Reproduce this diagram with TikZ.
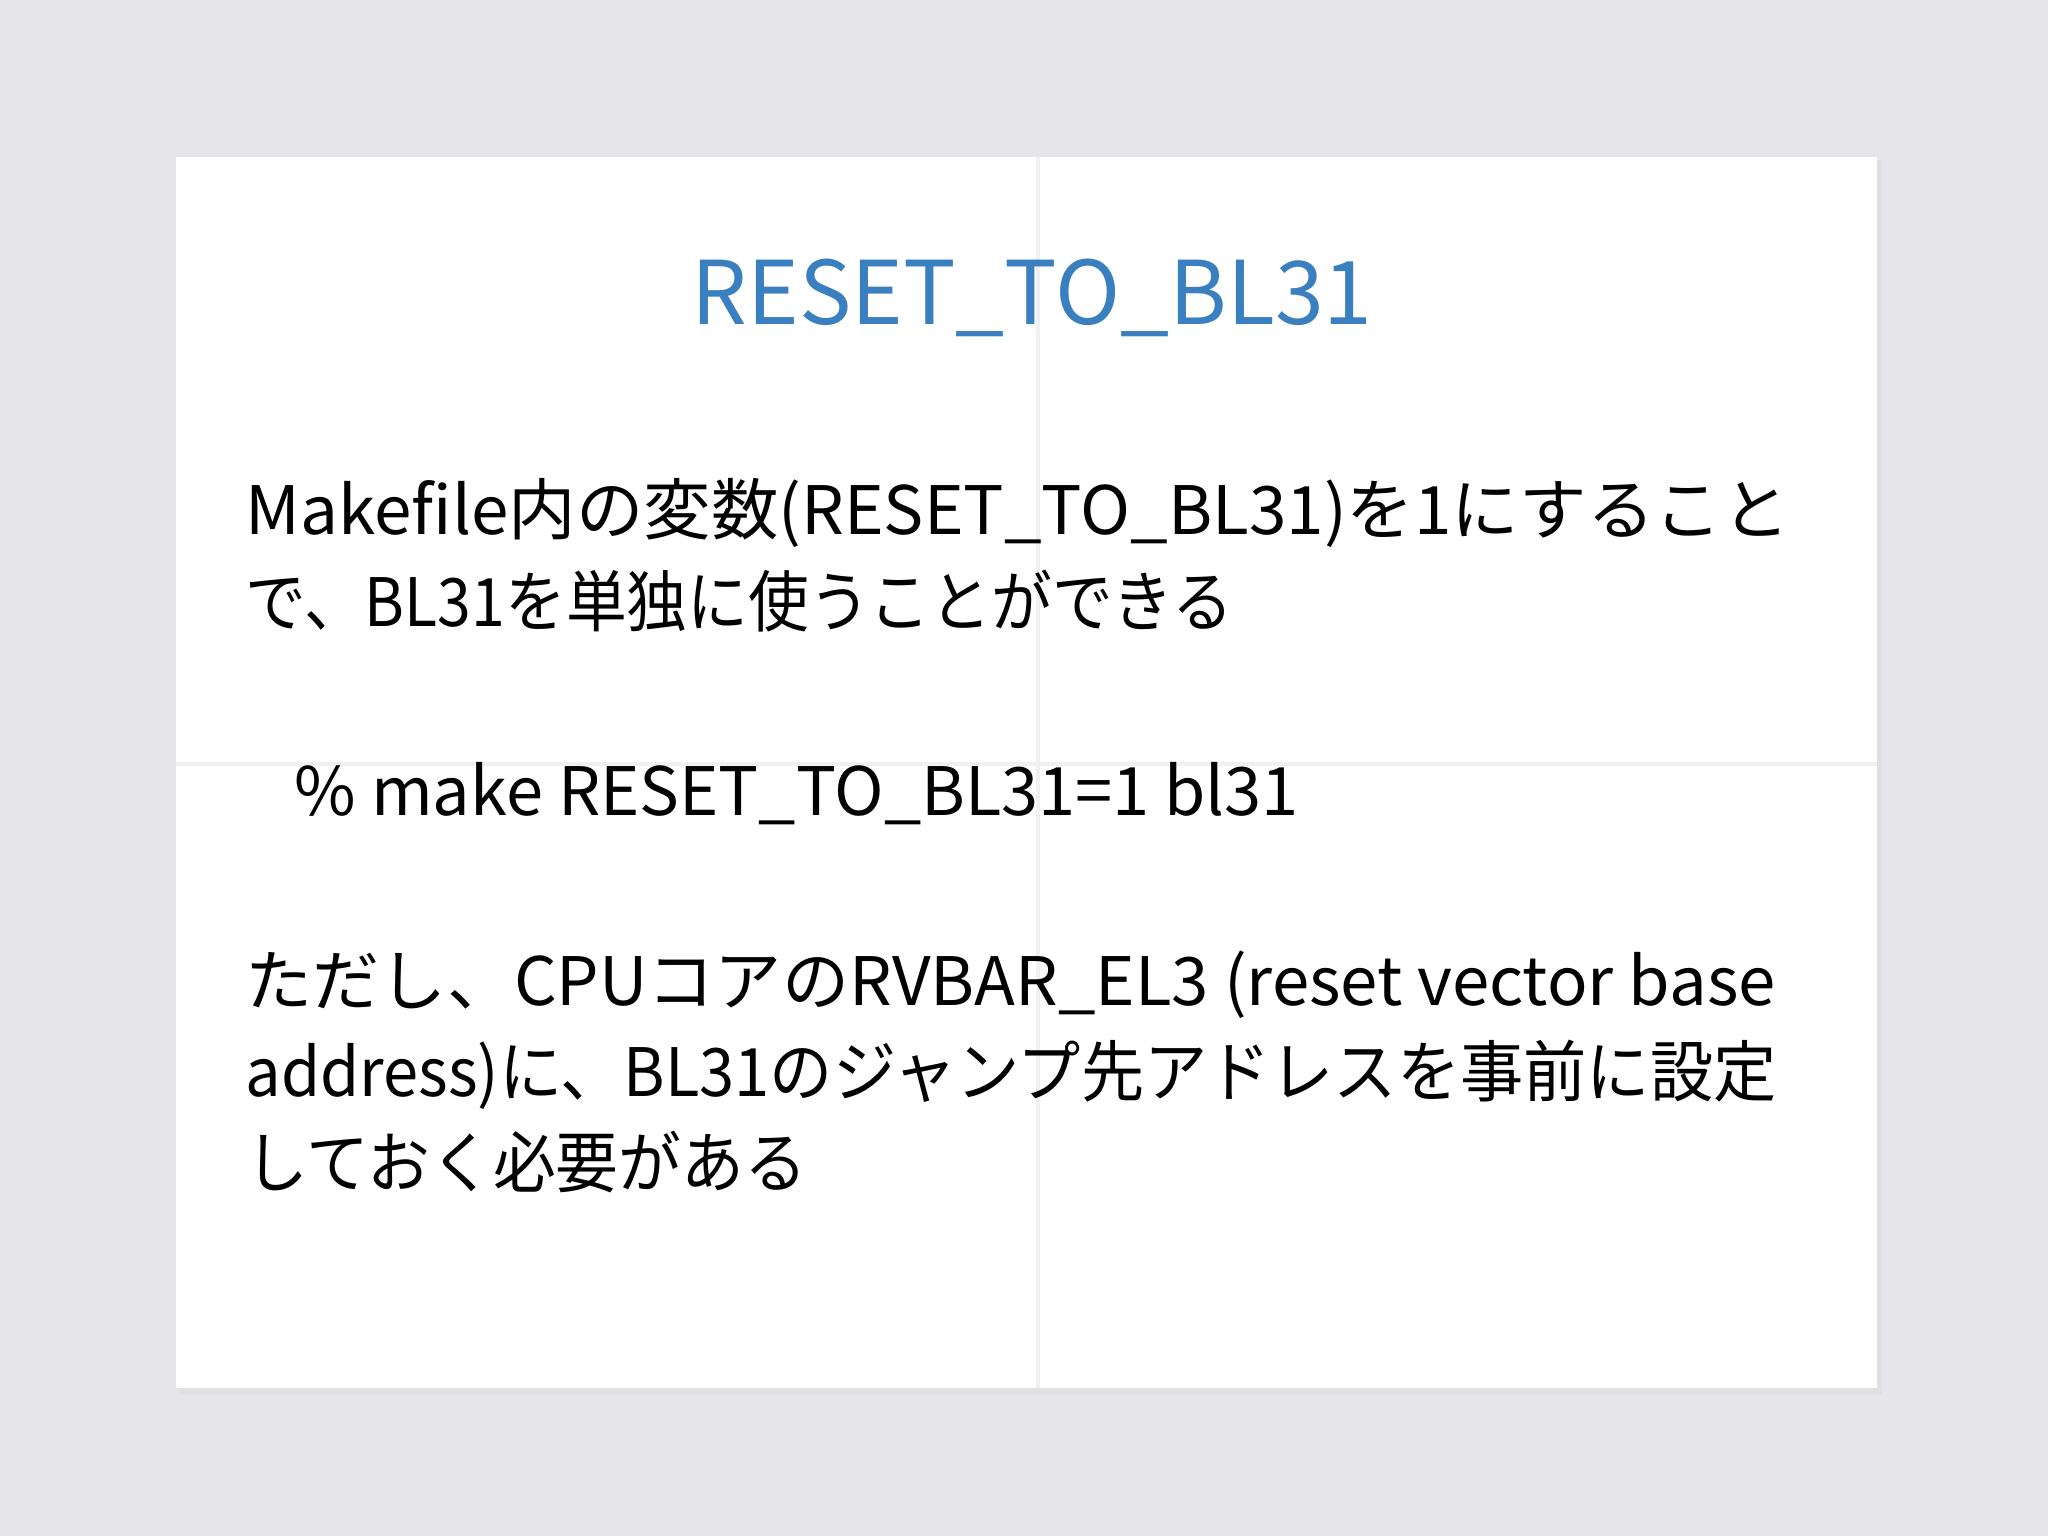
\documentclass[tikz,border=0pt]{standalone}
\usepackage{fontspec}
\usepackage{graphicx}
\setmainfont{Noto Sans CJK JP}
\definecolor{bgc}{RGB}{229,229,234}
\definecolor{titc}{RGB}{58,128,192}
\definecolor{foldc}{RGB}{240,240,243}
\begin{document}
\begin{tikzpicture}[
  body/.style={anchor=base west, inner sep=0pt, font=\fontsize{19}{22}\selectfont, text=black}]
\fill[bgc] (0,0) rectangle (20.48,15.36);
\useasboundingbox (0,0) rectangle (20.48,15.36);
\fill[black!12] (1.80,1.42) rectangle (18.82,13.76);
\fill[white] (1.76,1.48) rectangle (18.77,13.79);
\draw[foldc, line width=1pt] (10.38,1.48) -- (10.38,13.79);
\draw[foldc, line width=1pt] (1.76,7.72) -- (18.77,7.72);
\node[inner sep=0pt, text=titc, font=\fontsize{25}{30}\selectfont] (title) at (10.32,12.38) {RESET\_TO\_BL31};
\node[body] (l1) at (2.45,10.01) {\scalebox{1.01}[1]{Makefile内の変数(RESET\_TO\_BL31)を1にすること}};
\node[body] (l2) at (2.45,9.09) {\scalebox{0.91}[1]{で、BL31を単独に使うことができる}};
\node[body] (l3) at (2.94,7.20) {\% make RESET\_TO\_BL31=1 bl31};
\node[body] (l4) at (2.45,5.30) {\scalebox{1.005}[1]{ただし、CPUコアのRVBAR\_EL3 (reset vector base}};
\node[body] (l5) at (2.45,4.39) {\scalebox{0.947}[1]{address)に、BL31のジャンプ先アドレスを事前に設定}};
\node[body] (l6) at (2.45,3.48) {\scalebox{0.94}[1]{しておく必要がある}};
\end{tikzpicture}
\end{document}
